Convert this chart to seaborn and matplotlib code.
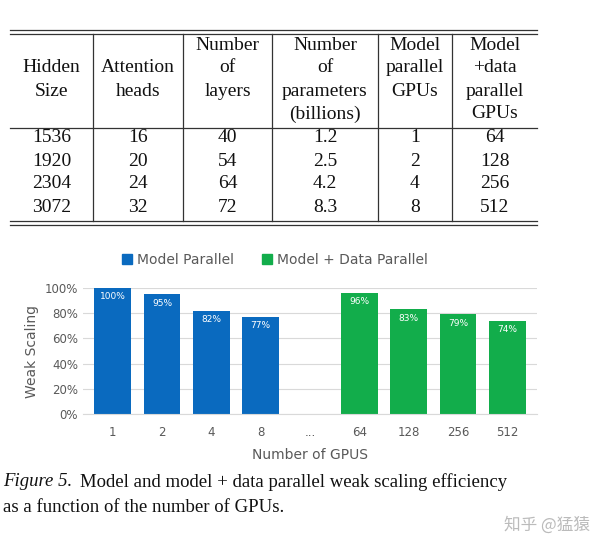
import numpy as np
import pandas as pd
import matplotlib
matplotlib.use("Agg")
import matplotlib.pyplot as plt
from matplotlib.lines import Line2D
from matplotlib.patches import Patch
import seaborn as sns

# --- Data ---
header_rows = [
    ["", "", "Number", "Number", "Model", "Model"],
    ["Hidden", "Attention", "of", "of", "parallel", "+data"],
    ["Size", "heads", "layers", "parameters", "GPUs", "parallel"],
    ["", "", "", "(billions)", "", "GPUs"],
]
hidden_size = ["1536", "1920", "2304", "3072"]
attention_heads = ["16", "20", "24", "32"]
num_layers = ["40", "54", "64", "72"]
num_params = ["1.2", "2.5", "4.2", "8.3"]
mp_gpus = ["1", "2", "4", "8"]
mdp_gpus = ["64", "128", "256", "512"]

gpu_labels = ["1", "2", "4", "8", "...", "64", "128", "256", "512"]
scaling = [1.00, 0.95, 0.82, 0.77, np.nan, 0.96, 0.83, 0.79, 0.74]
group = ["Model Parallel"] * 4 + ["gap"] + ["Model + Data Parallel"] * 4

blue = "#0A6ABF"
green = "#12AD4B"
W, H = 600, 552

fig = plt.figure(figsize=(6, 5.52), dpi=100)

def fx(px):
    return px / W

def fy(py):
    return 1 - py / H

# --- Table ---
serif = "Liberation Serif"
col_edges = [10, 93, 183, 272, 378, 452, 537]
col_centers = [(a + b) / 2 for a, b in zip(col_edges[:-1], col_edges[1:])]

def hline(py, lw=0.9):
    fig.add_artist(Line2D([fx(10), fx(537)], [fy(py), fy(py)], color="#333333", lw=lw))

hline(30); hline(34)
hline(128)
hline(221); hline(225)
for x in col_edges[1:-1]:
    fig.add_artist(Line2D([fx(x), fx(x)], [fy(34), fy(221)], color="#333333", lw=0.9))

header_y = [45, 68, 91, 114]
for r, row in enumerate(header_rows):
    for c, txt in enumerate(row):
        fig.text(fx(col_centers[c]), fy(header_y[r]), txt, ha="center", va="center",
                 fontsize=14, family=serif, color="#111111")

columns = [hidden_size, attention_heads, num_layers, num_params, mp_gpus, mdp_gpus]
row_y = [138, 161, 184, 208]
for c, col in enumerate(columns):
    for r, txt in enumerate(col):
        fig.text(fx(col_centers[c]), fy(row_y[r]), txt, ha="center", va="center",
                 fontsize=14, family=serif, color="#111111")

# --- Bar chart ---
ax = fig.add_axes([fx(83), fy(414), fx(537) - fx(83), fy(288) - fy(414)])
df = pd.DataFrame({"gpus": gpu_labels, "scaling": scaling, "group": group})
palette = {"Model Parallel": blue, "gap": blue, "Model + Data Parallel": green}
sns.barplot(data=df, x="gpus", y="scaling", hue="group", palette=palette,
            dodge=False, width=0.74, legend=False, ax=ax, order=gpu_labels,
            saturation=1)

ax.set_ylim(0, 1.0)
ax.set_xlim(-0.6, len(gpu_labels) - 0.4)
ax.set_yticks(np.arange(0, 1.01, 0.2))
ax.set_yticklabels([f"{int(v*100)}%" for v in np.arange(0, 1.01, 0.2)])
ax.yaxis.grid(True, color="#d9d9d9", lw=0.8)
ax.set_axisbelow(True)
for s in ["top", "right", "left"]:
    ax.spines[s].set_visible(False)
ax.spines["bottom"].set_color("#d9d9d9")
ax.tick_params(axis="both", length=0, colors="#595959", labelsize=8.5)
ax.tick_params(axis="x", pad=9)
ax.set_xlabel("Number of GPUS", fontsize=10, color="#595959", labelpad=6)
ax.set_ylabel("Weak Scaling", fontsize=10, color="#595959")

for i, v in enumerate(scaling):
    if not np.isnan(v):
        ax.text(i, v - 0.07, f"{int(round(v*100))}%", ha="center", va="center",
                color="white", fontsize=6.5)

handles = [Patch(color=blue, label="Model Parallel"),
           Patch(color=green, label="Model + Data Parallel")]
fig.legend(handles=handles, loc="center", bbox_to_anchor=(fx(275), fy(260)), ncol=2,
           frameon=False, fontsize=10, handlelength=0.7, handleheight=0.7,
           columnspacing=2.0, handletextpad=0.4, labelcolor="#595959")

# --- Caption ---
fig.text(fx(3), fy(482), "Figure 5.", fontsize=13.5, family=serif, style="italic",
         va="center", color="#111111")
fig.text(fx(80), fy(482), "Model and model + data parallel weak scaling efficiency",
         fontsize=13.5, family=serif, va="center", color="#111111")
fig.text(fx(3), fy(508), "as a function of the number of GPUs.", fontsize=13.5,
         family=serif, va="center", color="#111111")
fig.text(fx(590), fy(525), "知乎 @猛猿", fontsize=12,
         fontfamily=["Noto Sans CJK SC", "Noto Sans CJK JP", "DejaVu Sans"],
         ha="right", va="center", color="#bbbbbb")

fig.savefig("out.png", dpi=100, facecolor="white")
